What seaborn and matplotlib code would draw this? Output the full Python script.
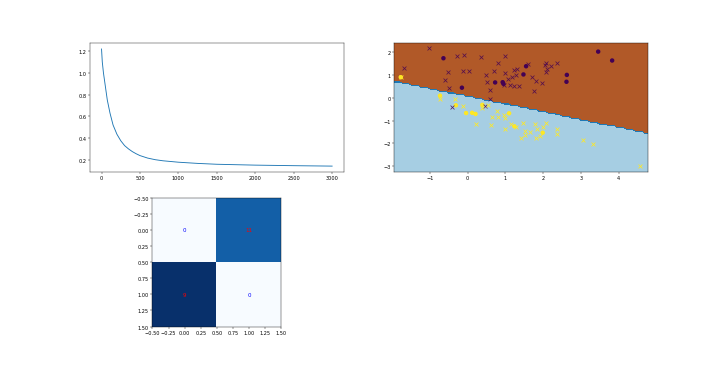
import matplotlib
matplotlib.use("Agg")
import matplotlib.pyplot as plt
import numpy as np
import pandas as pd
import seaborn as sns

# training loss (iteration, loss)
loss_iter = [0, 10, 25, 45, 75, 110, 150, 200, 250, 300, 350, 400, 450, 500,
             600, 700, 800, 1000, 1250, 1500, 2000, 2500, 3000]
loss_vals = [1.22, 1.10, 1.00, 0.90, 0.75, 0.63, 0.52, 0.435, 0.375, 0.33,
             0.30, 0.275, 0.255, 0.238, 0.215, 0.20, 0.19, 0.177, 0.166,
             0.158, 0.150, 0.145, 0.141]

# class 0 points drawn as dots
c0_dot_x = [-0.64, -0.15, 0.73, 0.93, 0.95, 1.48, 1.55, 2.63, 2.62, 3.46, 3.83]
c0_dot_y = [1.73, 0.44, 0.67, 0.68, 0.61, 1.02, 1.38, 1.00, 0.70, 2.02, 1.63]
# class 0 points drawn as crosses
c0_x_x = [-1.02, -1.68, -0.51, -0.61, -0.48, -0.28, -0.10, -0.12, 0.03, 0.35,
          0.50, 0.51, 0.60, 0.60, 0.70, 0.81, 0.99, 0.99, 1.06, 1.17, 1.23,
          1.32, 1.29, 1.13, 1.23, 1.35, 0.96, 1.60, 1.71, 1.81, 1.76, 1.98,
          2.04, 2.07, 2.11, 2.09, 2.22, 2.38, -0.41, 0.47]
c0_x_y = [2.20, 1.32, 1.14, 0.76, 0.41, 1.82, 1.86, 1.18, 1.18, 1.79,
          1.00, 0.67, 0.32, -0.04, 1.16, 1.54, 1.83, 1.08, 0.84, 0.89, 1.21,
          1.25, 0.98, 0.55, 0.51, 0.51, 0.55, 1.47, 0.90, 0.73, 0.29, 0.64,
          1.44, 1.50, 1.25, 1.11, 1.41, 1.50, -0.42, -0.36]
# class 1 points drawn as dots
c1_dot_x = [-0.73, -0.31, -0.04, 0.12, 0.21, 0.39, 1.10, 1.24, 1.99, -1.77]
c1_dot_y = [0.09, -0.33, -0.67, -0.66, -0.71, -0.31, -0.68, -1.25, -1.53, 0.90]
# class 1 points drawn as crosses
c1_x_x = [-1.76, -0.72, -0.34, -0.12, 0.21, 0.38, 0.55, 0.63, 0.66, 0.78,
          0.81, 0.96, 0.99, 0.99, 1.15, 1.27, 1.42, 1.48, 1.52, 1.52, 1.65,
          1.78, 1.84, 1.81, 1.91, 2.01, 2.08, 2.38, 2.38, 3.07, 3.32, 4.58]
c1_x_y = [0.90, -0.04, -0.07, -0.36, -1.17, -0.45, -0.33, -1.18, -0.83, -0.58,
          -0.86, -0.76, -0.89, -1.37, -1.16, -1.30, -1.78, -1.09, -1.47, -1.62,
          -1.51, -1.14, -1.35, -1.75, -1.67, -1.30, -1.09, -1.35, -1.59, -1.85,
          -2.04, -3.00]

# decision boundary (two points on it) and plot extent
boundary_x = [-1.94, 4.78]
boundary_y = [0.75, -1.53]
x_range = [-1.94, 4.78]
y_range = [-3.25, 2.39]
mesh_step = 0.08

# confusion matrix and the numbers written on it
conf_mat = [[0, 9], [11, 0]]
text_colors = [["blue", "red"], ["red", "blue"]]

purple = "#440154"
yellow = "#fde725"
paired = plt.get_cmap("Paired")

fig = plt.figure(figsize=(20, 10.222), dpi=36)

# loss curve
ax1 = fig.add_subplot(2, 2, 1)
loss_df = pd.DataFrame({"iter": loss_iter, "loss": loss_vals})
sns.lineplot(data=loss_df, x="iter", y="loss", ax=ax1, color="#1f77b4",
             linewidth=1.8)
ax1.set_xlabel("")
ax1.set_ylabel("")

# decision regions
ax2 = fig.add_subplot(2, 2, 2)
xx, yy = np.meshgrid(np.arange(x_range[0], x_range[1] + mesh_step, mesh_step),
                     np.arange(y_range[0], y_range[1] + mesh_step, mesh_step))
slope = (boundary_y[1] - boundary_y[0]) / (boundary_x[1] - boundary_x[0])
zz = (yy > boundary_y[0] + slope * (xx - boundary_x[0])).astype(float)
ax2.contourf(xx, yy, zz, levels=[-0.1, 0.2, 0.8, 1.1],
             colors=[paired(0), paired(1), paired(11)])
sns.scatterplot(x=c0_dot_x, y=c0_dot_y, ax=ax2, color=purple, s=80,
                marker="o", edgecolor="none")
sns.scatterplot(x=c1_dot_x, y=c1_dot_y, ax=ax2, color=yellow, s=80,
                marker="o", edgecolor="none")
sns.scatterplot(x=c0_x_x, y=c0_x_y, ax=ax2, color=purple, s=60,
                marker="x", linewidth=1.5, alpha=0.85)
sns.scatterplot(x=c1_x_x, y=c1_x_y, ax=ax2, color=yellow, s=60,
                marker="x", linewidth=1.6)
ax2.set_xlim(x_range)
ax2.set_ylim(y_range)

# confusion matrix
ax3 = fig.add_subplot(2, 2, 3)
ax3.imshow(np.array(conf_mat), cmap="Blues")
for i in range(2):
    for j in range(2):
        ax3.text(i, j, str(conf_mat[i][j]), color=text_colors[j][i],
                 ha="center", va="center", fontsize=11)

fig.savefig("out.png", dpi=36)
